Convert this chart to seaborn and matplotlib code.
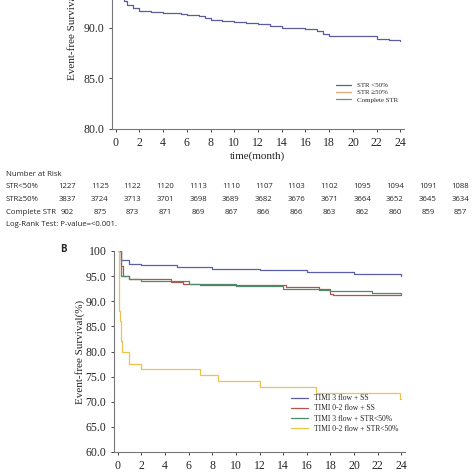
import matplotlib
matplotlib.use("Agg")
import matplotlib.pyplot as plt
import seaborn as sns
import pandas as pd

sns.set_style("ticks")
plt.rcParams['font.family'] = ['Liberation Serif', 'DejaVu Serif']

# Panel A
a_labels = ["STR <50%", "STR \u226550%", "Complete STR"]
a_colors = ["#5a5c9e", "#e8a07a", "#5f9a78"]
a_blue_t = [0, 0.5, 0.7, 1, 1.5, 2, 3, 4, 5.5, 6, 7, 7.5, 8, 9, 10, 11, 12, 13, 14, 16, 17, 17.5, 18, 21, 22, 23, 24]
a_blue_s = [100, 93.5, 92.7, 92.3, 92.0, 91.7, 91.6, 91.5, 91.4, 91.3, 91.2, 91.0, 90.8, 90.7, 90.6, 90.5, 90.4, 90.2, 90.0, 89.9, 89.7, 89.4, 89.2, 89.2, 88.9, 88.8, 88.7]
a_or_t = [0, 1, 4, 8, 12, 16, 20, 24]
a_or_s = [100, 97.5, 97.0, 96.6, 96.2, 95.8, 95.4, 95.0]
a_gr_t = [0, 1, 4, 8, 12, 16, 20, 24]
a_gr_s = [100, 97.2, 96.7, 96.3, 95.9, 95.5, 95.1, 94.7]

risk_rows = ["STR<50%", "STR\u226550%", "Complete STR"]
risk_vals = [
    [1227, 1125, 1122, 1120, 1113, 1110, 1107, 1103, 1102, 1095, 1094, 1091, 1088],
    [3837, 3724, 3713, 3701, 3698, 3689, 3682, 3676, 3671, 3664, 3652, 3645, 3634],
    [902, 875, 873, 871, 869, 867, 866, 866, 863, 862, 860, 859, 857],
]

# Panel B
b_labels = ["TIMI 3 flow + SS", "TIMI 0-2 flow + SS", "TIMI 3 flow + STR<50%", "TIMI 0-2 flow + STR<50%"]
b_colors = ["#5b5ea8", "#b5524a", "#4f8a6c", "#efc24a"]
b1_t = [0, 0.3, 1, 2, 5, 8, 12, 16, 20, 24]
b1_s = [100, 98.3, 97.5, 97.2, 96.8, 96.5, 96.2, 95.8, 95.5, 95.1]
b2_t = [0, 0.3, 0.5, 1, 4.5, 5.5, 7, 10, 14.2, 17, 18, 18.2, 24]
b2_s = [100, 97.0, 95.0, 94.5, 93.8, 93.5, 93.3, 93.2, 92.8, 92.5, 91.5, 91.2, 91.2]
b3_t = [0, 0.3, 1, 2, 6, 10, 14, 17, 18, 21.5, 24]
b3_s = [100, 95.0, 94.5, 94.0, 93.5, 93.0, 92.5, 92.2, 92.0, 91.6, 91.5]
b4_t = [0, 0.1, 0.2, 0.3, 0.4, 1, 2, 7, 8.5, 12, 16.8, 23.9, 24]
b4_s = [100, 88, 86, 82, 80, 77.5, 76.5, 75.3, 74.2, 73.0, 71.8, 70.6, 70.6]

fig = plt.figure(figsize=(4.74, 4.74), dpi=100)

def draw(ax, series, labels, colors):
    for (t, s), lab, c in zip(series, labels, colors):
        df = pd.DataFrame({"t": t, "s": s})
        sns.lineplot(data=df, x="t", y="s", ax=ax, color=c, lw=0.9,
                     drawstyle="steps-post", label=lab, estimator=None)
    ax.set_xlim(-0.3, 24.3)
    ax.set_xticks(range(0, 25, 2))
    for sp in ["top", "right"]:
        ax.spines[sp].set_visible(False)
    ax.spines["left"].set_color("#777777")
    ax.spines["bottom"].set_color("#777777")
    ax.tick_params(labelsize=8.5, length=2, width=0.6)
    ax.legend(loc="lower right", fontsize=5.5, frameon=False, handlelength=2.2,
              labelspacing=0.3, bbox_to_anchor=(1.0, 0.06))

axA = fig.add_axes([112/474, 1-129/474, 292/474, 202/474])
draw(axA, [(a_blue_t, a_blue_s), (a_or_t, a_or_s), (a_gr_t, a_gr_s)], a_labels, a_colors)
axA.set_ylim(80, 100)
axA.set_yticks([80, 85, 90, 95, 100])
axA.yaxis.set_major_formatter(matplotlib.ticker.FormatStrFormatter("%.1f"))
axA.set_xlabel("time(month)", fontsize=8)
axA.set_ylabel("Event-free Survival(%)", fontsize=8, labelpad=0)
axA.yaxis.set_label_coords(-0.12, 0.5)
axA.xaxis.labelpad = 2
axA.legend(loc="lower right", fontsize=5, frameon=False, handlelength=2.2,
           labelspacing=0.2, bbox_to_anchor=(1.0, 0.1))

axB = fig.add_axes([114/474, 22/474, 291/474, 201/474])
draw(axB, [(b1_t, b1_s), (b2_t, b2_s), (b3_t, b3_s), (b4_t, b4_s)], b_labels, b_colors)
axB.set_ylim(60, 100)
axB.set_yticks(range(60, 101, 5))
axB.set_yticklabels([f"{v:.1f}" if v < 100 else "100" for v in range(60, 101, 5)])
axB.set_xlabel("")
axB.set_ylabel("Event-free Survival(%)", fontsize=8)
axB.yaxis.set_label_coords(-0.10, 0.5)

sans = ['Open Sans', 'DejaVu Sans']
fs = 5.6
fig.text(6/474, 1-174/474, "Number at Risk", fontsize=fs, family=sans, va="center")
xs = [67 + i * 32.8 for i in range(13)]
for r, (lab, vals) in enumerate(zip(risk_rows, risk_vals)):
    y = 1 - (187 + r * 12.5) / 474
    fig.text(6/474, y, lab, fontsize=fs, family=sans, va="center")
    for x, v in zip(xs, vals):
        fig.text(x/474, y, str(v), fontsize=fs, family=sans, va="center", ha="center")
fig.text(6/474, 1-225/474, "Log-Rank Test: P-value=<0.001.", fontsize=fs, family=sans, va="center")
fig.text(60/474, 1-250/474, "B", fontsize=7, family=sans, weight="bold", va="center")

fig.savefig("out.png", dpi=100)
